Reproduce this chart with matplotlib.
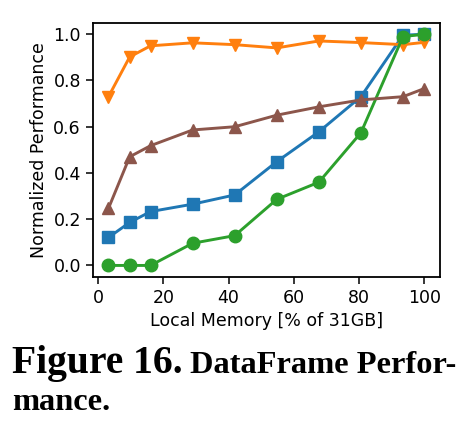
import matplotlib
matplotlib.use("Agg")
import matplotlib.pyplot as plt

memory_pct = [3.2, 9.7, 16.1, 29.0, 41.9, 54.8, 67.7, 80.6, 93.5, 100.0]
series_blue = [0.121, 0.186, 0.233, 0.265, 0.305, 0.449, 0.578, 0.73, 0.996, 1.0]
series_orange = [0.73, 0.902, 0.95, 0.963, 0.955, 0.941, 0.971, 0.964, 0.955, 0.965]
series_green = [0.0, 0.0, 0.0, 0.096, 0.129, 0.286, 0.36, 0.574, 0.99, 1.0]
series_brown = [0.247, 0.47, 0.518, 0.586, 0.60, 0.65, 0.686, 0.716, 0.73, 0.765]

xticks = [0, 20, 40, 60, 80, 100]
yticks = [0.0, 0.2, 0.4, 0.6, 0.8, 1.0]

fig = plt.figure(figsize=(4.74, 4.28), dpi=100)
ax = fig.add_axes([92.7/474, 1-277/428, (440-92.7)/474, (277-22.7)/428])

lw = 2.1
ms = 9
ax.plot(memory_pct, series_blue, color="#1f77b4", marker="s", lw=lw, ms=ms)
ax.plot(memory_pct, series_orange, color="#ff7f0e", marker="v", lw=lw, ms=ms)
ax.plot(memory_pct, series_green, color="#2ca02c", marker="o", lw=lw, ms=ms)
ax.plot(memory_pct, series_brown, color="#8c564b", marker="^", lw=lw, ms=ms)

ax.set_xticks(xticks)
ax.set_yticks(yticks)
ax.set_yticklabels([f"{v:.1f}" for v in yticks])
ax.tick_params(labelsize=12.5, length=5, width=1.1)
for s in ax.spines.values():
    s.set_linewidth(1.3)
ax.set_xlabel("Local Memory [% of 31GB]", fontsize=12.5)
ax.set_ylabel("Normalized Performance", fontsize=12.5)

fig.text(12/474, 1-373/428, "Figure 16.", fontsize=28.5,
         family="Liberation Serif", weight="bold", va="baseline", ha="left")
fig.text(190/474, 1-373/428, "DataFrame Perfor-", fontsize=23.3,
         family="Liberation Serif", weight="bold", va="baseline", ha="left")
fig.text(12/474, 1-410/428, "mance.", fontsize=23.3,
         family="Liberation Serif", weight="bold", va="baseline", ha="left")

fig.savefig("out.png", dpi=100)
